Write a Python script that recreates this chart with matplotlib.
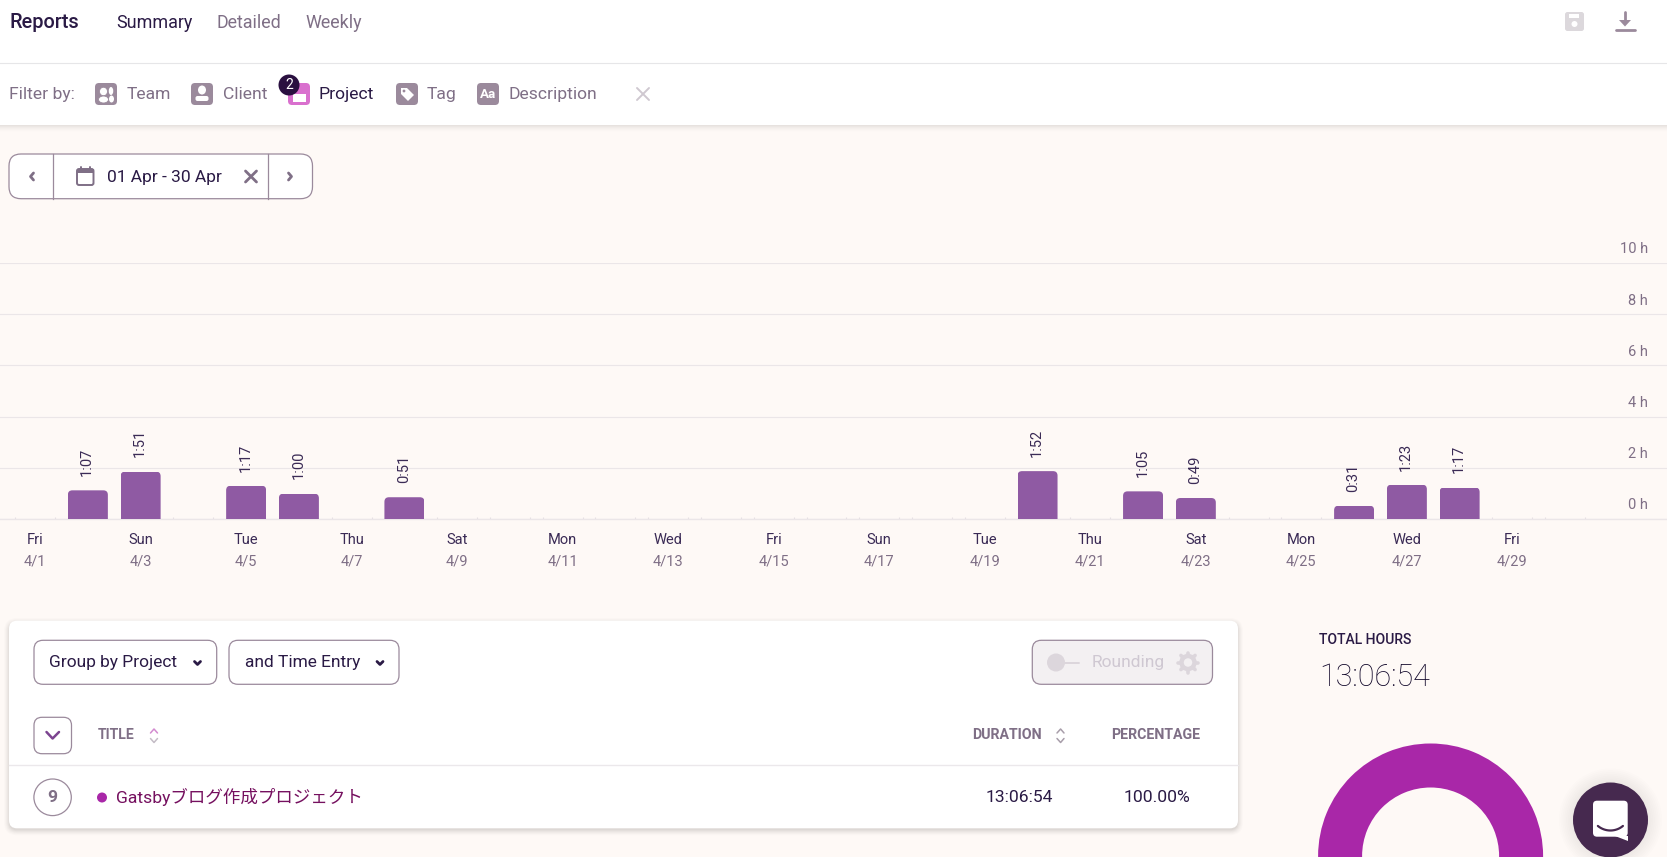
import numpy as np
from matplotlib import pyplot as plt
from matplotlib.patches import FancyBboxPatch, Circle, Ellipse, Polygon, Rectangle
from matplotlib.transforms import IdentityTransform

plt.rcParams['font.family'] = ['Roboto', 'Noto Sans CJK JP', 'DejaVu Sans']

W, H = 1667, 857

# chart data, hours per day of April
bar_days = [2, 3, 5, 6, 8, 20, 22, 23, 26, 27, 28]
bar_hours = [1.12, 1.85, 1.30, 0.99, 0.85, 1.87, 1.08, 0.82, 0.52, 1.34, 1.23]
bar_labels = ['1:07', '1:51', '1:17', '1:00', '0:51', '1:52', '1:05', '0:49', '0:31', '1:23', '1:17']
all_days = list(range(1, 31))
tick_days = [1, 3, 5, 7, 9, 11, 13, 15, 17, 19, 21, 23, 25, 27, 29]
weekdays = ['Fri', 'Sun', 'Tue', 'Thu', 'Sat', 'Mon', 'Wed', 'Fri', 'Sun', 'Tue', 'Thu', 'Sat', 'Mon', 'Wed', 'Fri']
dates = ['4/1', '4/3', '4/5', '4/7', '4/9', '4/11', '4/13', '4/15', '4/17', '4/19', '4/21', '4/23', '4/25', '4/27', '4/29']
hour_ticks = [0, 2, 4, 6, 8, 10]
hour_labels = ['0 h', '2 h', '4 h', '6 h', '8 h', '10 h']
donut_shares = [100.0]

DARK = '#2a1a45'
GREY = '#7f6f86'
ICON = '#9b8a9c'
BG = '#fef9f6'
LINE = '#ebe6e8'
BAR = '#8f5aa3'
MAGENTA = '#a927a8'
PINK = '#d970ce'

fig = plt.figure(figsize=(W / 100, H / 100), dpi=100, facecolor=BG)

# full page axes in pixel coords for the app chrome
ui = fig.add_axes([0, 0, 1, 1], zorder=0)
ui.set_xlim(0, W)
ui.set_ylim(H, 0)
ui.axis('off')


def rbox(x0, y0, x1, y1, r, fc='white', ec='none', lw=0.9, alpha=None, z=2):
    p = FancyBboxPatch((x0, y0), x1 - x0, y1 - y0, boxstyle=f'round,pad=0,rounding_size={r}',
                       fc=fc, ec=ec, lw=lw, alpha=alpha, zorder=z)
    ui.add_patch(p)
    return p


def txt(x, y, s, size=12.5, color=GREY, ha='left', weight='normal', z=5):
    return ui.text(x, y, s, fontsize=size, color=color, ha=ha, va='center', fontweight=weight, zorder=z)


def stroke(xs, ys, color=GREY, lw=1.5, z=5):
    ui.plot(xs, ys, color=color, lw=lw, solid_capstyle='round', solid_joinstyle='round', zorder=z)


# header
ui.add_patch(Rectangle((0, 0), W, 125, fc='white', ec='none', zorder=1))
for i in range(8):
    ui.add_patch(Rectangle((0, 125 + i), W, 1, fc='#000000', ec='none', alpha=0.09 * (1 - i / 8) ** 2, zorder=1))
ui.plot([0, W], [63, 63], color='#e6e6e8', lw=0.8, zorder=2)

txt(9.5, 22, 'Reports', 14.3, DARK, weight='medium')
txt(116.5, 22.5, 'Summary', 12.9, DARK)
txt(217, 22.5, 'Detailed', 12.9)
txt(305, 22.5, 'Weekly', 12.9)

# save and download icons
rbox(1565, 12, 1584, 31, 2.5, fc='#dcd8dc')
ui.add_patch(Rectangle((1569, 14), 10, 4, fc='white', ec='none', zorder=3))
ui.add_patch(Circle((1574.5, 24), 3, fc='white', ec='none', zorder=3))
stroke([1625, 1625], [12, 22], ICON, 2)
ui.add_patch(Polygon([[1619, 20], [1631, 20], [1625, 26.5]], fc=ICON, ec='none', zorder=5))
stroke([1616, 1635], [30, 30], ICON, 2)

# filter row
txt(9, 94, 'Filter by:', 12.6)
for x0 in [95, 191, 396, 477]:
    rbox(x0, 83, x0 + 22, 105, 4, fc=ICON)
ui.add_patch(Ellipse((111, 91), 4.5, 8, fc='white', ec='none', zorder=4))
ui.add_patch(Ellipse((111.5, 99), 5, 7, fc='white', ec='none', zorder=4))
ui.add_patch(Ellipse((103.5, 91.5), 8, 8.5, fc='white', ec=ICON, lw=0.6, zorder=4))
ui.add_patch(Ellipse((103.5, 99.5), 10, 7, fc='white', ec=ICON, lw=0.6, zorder=4))
ui.add_patch(Ellipse((202, 90), 8, 9, fc='white', ec='none', zorder=4))
rbox(195.5, 96, 208.5, 101, 2, fc='white', z=4)
ui.add_patch(Polygon([[401, 88], [407, 88], [414, 95], [408, 101], [401, 94]], fc='white', ec='none', zorder=4))
ui.add_patch(Circle((404, 91), 1.4, fc=ICON, ec='none', zorder=5))
txt(488, 94.5, 'Aa', 9.6, 'white', ha='center', weight='bold')
rbox(288, 83, 310, 105, 4, fc=PINK)
ui.add_patch(Rectangle((293, 93.7), 13, 8, fc='white', ec='none', zorder=4))
ui.add_patch(Circle((289, 85), 10.5, fc='#2a1040', ec='none', zorder=5))
txt(289, 85, '2', 10, 'white', ha='center', z=6)
txt(126.5, 94, 'Team', 12.6)
txt(222.5, 94, 'Client', 12.6)
txt(319, 94, 'Project', 12.6, DARK)
txt(427, 94, 'Tag', 12.6)
txt(508, 94, 'Description', 12.6)
stroke([637, 649], [88, 100], '#cfc8d0', 1.4)
stroke([637, 649], [100, 88], '#cfc8d0', 1.4)

# date picker
rbox(9, 154, 312.5, 198.7, 12, fc='white', ec=ICON)
ui.plot([53.4, 53.4], [154, 198.7], color=ICON, lw=0.9, zorder=3)
ui.plot([268.3, 268.3], [154, 198.7], color=ICON, lw=0.9, zorder=3)
stroke([33.5, 30.5, 33.5], [173, 176.5, 180], GREY, 2)
stroke([288.5, 291.5, 288.5], [173, 176.5, 180], GREY, 2)
rbox(77, 169, 93.5, 185, 2, fc='white', ec=GREY, lw=1.4)
ui.add_patch(Rectangle((77, 169), 16.5, 4, fc=GREY, ec='none', zorder=4))
stroke([81, 81], [166.5, 169], GREY, 1.4)
stroke([89.5, 89.5], [166.5, 169], GREY, 1.4)
txt(107, 177, '01 Apr - 30 Apr', 12.5, DARK)
stroke([245.5, 256.5], [171, 182], GREY, 2)
stroke([245.5, 256.5], [182, 171], GREY, 2)

# table card
for i in range(6):
    rbox(9 - i, 621 + 2 - i, 1238 + i, 828.3 + 2 + i, 8 + i, fc='#000000', alpha=0.012 + 0.004 * (5 - i), z=1)
rbox(9, 620.7, 1238, 828.3, 8, fc='white', z=2)

rbox(34, 640.3, 216.7, 684.3, 9, fc='white', ec=ICON, z=3)
rbox(229, 640.3, 399, 684.3, 9, fc='white', ec=ICON, z=3)
txt(49, 662.7, 'Group by Project', 12.5, DARK)
txt(245, 662.7, 'and Time Entry', 12.5, DARK)
stroke([194.5, 197.5, 200.5], [661.5, 664.5, 661.5], DARK, 2)
stroke([377, 380, 383], [661.5, 664.5, 661.5], DARK, 2)

rbox(1032.3, 640.3, 1212.5, 684.3, 9, fc='#f3f0f2', ec=ICON, z=3)
ui.add_patch(Circle((1056, 662.5), 9, fc='#dcd6dc', ec='none', zorder=4))
stroke([1060, 1079], [662.5, 662.5], '#dcd6dc', 1.4)
txt(1092, 662.7, 'Rounding', 12.5, '#cfc8d2')
ui.add_patch(Circle((1188, 662.5), 6.5, fc='#f3f0f2', ec='#dcd6dc', lw=3.2, zorder=4))
for a in np.arange(0, 360, 45):
    c, s = np.cos(np.radians(a)), np.sin(np.radians(a))
    stroke([1188 + 7.5 * c, 1188 + 10 * c], [662.5 + 7.5 * s, 662.5 + 10 * s], '#dcd6dc', 2.6)

rbox(34, 717.3, 71.5, 753.7, 8, fc='white', ec=ICON, z=3)
stroke([46.5, 52.6, 59], [732, 738.5, 732], '#7c4490', 1.8)

txt(98, 735, 'TITLE', 10.1, GREY, weight='bold')
stroke([150.5, 154, 157.5], [733, 729, 733], '#d38bd0', 1.1)
stroke([150.5, 154, 157.5], [738.5, 742.5, 738.5], '#c4bcc6', 1.1)
txt(972.5, 735, 'DURATION', 10.2, GREY, weight='bold')
stroke([1057, 1060.6, 1064], [733, 729, 733], '#a89eaa', 1.1)
stroke([1057, 1060.6, 1064], [738.5, 742.5, 738.5], '#a89eaa', 1.1)
txt(1111.5, 735, 'PERCENTAGE', 10.2, GREY, weight='bold')
ui.plot([9, 1238], [765.3, 765.3], color='#ebe8eb', lw=1, zorder=3)

ui.add_patch(Ellipse((52.6, 797.3), 37.4, 36.6, fc='white', ec=ICON, lw=0.9, zorder=3))
txt(52.6, 797.5, '9', 12.6, GREY, ha='center', weight='bold')
ui.add_patch(Circle((102, 797.5), 5, fc=MAGENTA, ec='none', zorder=4))
txt(116, 796.7, 'Gatsbyブログ作成プロジェクト', 12.6, '#75105f')
txt(1019.5, 797.7, '13:06:54', 12.6, DARK, ha='center')
txt(1157, 797.7, '100.00%', 12.6, DARK, ha='center')

# totals
txt(1319, 640.3, 'TOTAL HOURS', 10, DARK, weight='medium')
txt(1319, 677, '13:06:54', 22, '#0f0528', weight='light')

# chat button
for i in range(8):
    ui.add_patch(Circle((1610.5, 820), 39 + i * 1.8, fc='#000000', ec='none', alpha=0.006, zorder=6))
ui.add_patch(Circle((1610.5, 820), 37.5, fc='#46294f', ec='none', zorder=7))
rbox(1593, 800.7, 1627.7, 836.7, 4, fc='white', z=8)
ui.add_patch(Polygon([[1615, 836], [1627.7, 836], [1627.7, 841]], fc='white', ec='none', zorder=8))
arc = np.linspace(np.radians(50), np.radians(130), 20)
stroke(1610.4 + 19.5 * np.cos(arc), 811 + 19.5 * np.sin(arc), '#46294f', 1.6, z=9)

# bar chart
base_y, top_y = 519, 263
day_px = 52.76
ax = fig.add_axes([0, 1 - base_y / H, 1, (base_y - top_y) / H], zorder=1)
ax.patch.set_visible(False)
ax.set_xlim(1 - 35.1 / day_px, 1 + (W - 35.1) / day_px)
ax.set_ylim(0, 10)
for spine in ax.spines.values():
    spine.set_visible(False)

ax.set_yticks(hour_ticks)
ax.tick_params(axis='y', length=0, labelleft=False)
ax.grid(axis='y', color=LINE, lw=0.8, zorder=0)
ax.set_axisbelow(True)
ax.plot(ax.get_xlim(), [0, 0], color=LINE, lw=1, zorder=1, clip_on=False)

for val, lab in zip(hour_ticks, hour_labels):
    ax.annotate(lab, xy=(1, val), xycoords=ax.get_yaxis_transform(), xytext=(-13.6, 9.8),
                textcoords='offset points', ha='right', va='center', fontsize=10.5, color=GREY)

bar_width = 40 / day_px
bars = ax.bar(bar_days, bar_hours, width=bar_width, color=BAR, zorder=3)
for b in bars:
    ext = b.get_window_extent()
    clip = FancyBboxPatch((ext.x0, ext.y0 - 10), ext.width, ext.height + 10, boxstyle='round,pad=0,rounding_size=4.5',
                          transform=IdentityTransform())
    b.set_clip_path(clip)

# empty days still leave little stubs at the bar edges
empty = [d for d in all_days if d not in bar_days]
ax.vlines([d - bar_width / 2 for d in empty] + [d + bar_width / 2 for d in empty], 0, 0.07, color='#e6e0e4', lw=0.8, zorder=2)

for d, h, lab in zip(bar_days, bar_hours, bar_labels):
    ax.annotate(lab, xy=(d, h), xytext=(-0.4, 10.2), textcoords='offset points', rotation=90,
                ha='center', va='bottom', fontsize=10.5, color='#3a2a55')

ax.set_xticks(tick_days, weekdays)
ax.tick_params(axis='x', length=0, pad=10, labelsize=10.5, labelcolor='#3a2a55')
sec = ax.secondary_xaxis('bottom')
sec.set_xticks(tick_days, dates)
sec.tick_params(axis='x', length=0, pad=25.3, labelsize=10.5, labelcolor=GREY)
sec.spines['bottom'].set_visible(False)

# donut, runs off the bottom of the page
R = 112.5
cx, cy = 1430.6, 856
don = fig.add_axes([(cx - R) / W, 1 - (cy + R) / H, 2 * R / W, 2 * R / H], zorder=1)
don.pie(donut_shares, colors=[MAGENTA], radius=1, wedgeprops={'width': 44 / R})
don.set_xlim(-1, 1)
don.set_ylim(-1, 1)

fig.savefig('out.png', dpi=100)
